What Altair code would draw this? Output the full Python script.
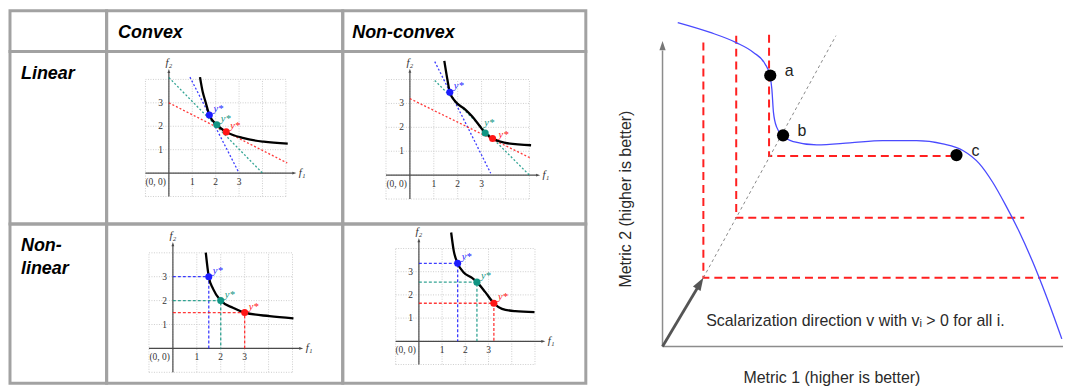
import altair as alt
import pandas as pd

# ---------------- table text ----------------
COL_HEADERS = ["Convex", "Non-convex"]
ROW_HEADERS = ["Linear", "Non-\nlinear"]

# ---------------- small plots (f1, f2 values) ----------------
SERIES = ["blue", "teal", "red"]
SERIES_COLORS = ["#1c1cff", "#109583", "#ff1616"]
TICKS = [1, 2, 3]
GRID_X = [-1, 0, 1, 2, 3, 4, 5]
GRID_Y = [-1, 0, 1, 2, 3, 4]

# convex / linear
CL_CURVE_F1 = [1.33, 1.45, 1.55, 1.73, 2.05, 2.45, 3.2, 4.05, 5.08]
CL_CURVE_F2 = [4.1, 3.45, 3.1, 2.48, 2.06, 1.76, 1.49, 1.34, 1.26]
CL_PT_F1 = [1.73, 2.05, 2.45]
CL_PT_F2 = [2.48, 2.06, 1.76]
CL_LINE_F1 = [[0.9, 3.0], [0.0, 4.0], [0.0, 5.06]]
CL_LINE_F2 = [[4.1, 0.0], [4.08, 0.0], [3.0, 0.43]]

# non-convex / linear
NL_CURVE_F1 = [1.44, 1.56, 1.67, 1.9, 2.32, 2.6, 2.88, 3.15, 3.46, 3.99, 5.07]
NL_CURVE_F2 = [4.78, 4.05, 3.47, 3.08, 2.74, 2.46, 2.11, 1.76, 1.53, 1.35, 1.25]
NL_PT_F1 = [1.67, 3.15, 3.46]
NL_PT_F2 = [3.47, 1.76, 1.53]
NL_LINE_F1 = [[1.04, 3.38], [1.04, 5.04], [0.0, 5.08]]
NL_LINE_F2 = [[4.75, 0.08], [3.96, -0.04], [3.2, 0.7]]

# convex / non-linear
CN_CURVE_F1 = [1.375, 1.5, 1.68, 2.0, 2.51, 3.0, 4.04, 5.04]
CN_CURVE_F2 = [4.01, 3.0, 2.49, 2.0, 1.7, 1.5, 1.35, 1.26]
CN_PT_F1 = [1.5, 2.0, 3.0]
CN_PT_F2 = [3.0, 2.0, 1.5]

# non-convex / non-linear
NN_CURVE_F1 = [1.39, 1.5, 1.67, 1.93, 2.29, 2.5, 2.86, 3.23, 3.58, 4.15, 4.98]
NN_CURVE_F2 = [4.69, 3.91, 3.36, 2.97, 2.73, 2.55, 2.12, 1.64, 1.4, 1.3, 1.26]
NN_PT_F1 = [1.67, 2.5, 3.23]
NN_PT_F2 = [3.36, 2.55, 1.64]

# ---------------- right diagram (metric units) ----------------
FRONT_M1 = [0.38, 1.19, 1.84, 2.27, 2.56, 2.67, 2.73, 2.77, 2.85, 3.0, 3.27, 3.85,
            4.68, 5.5, 6.34, 7.0, 7.5, 7.91, 8.24, 8.57, 8.91, 9.24, 9.57, 9.97]
FRONT_M2 = [9.85, 9.55, 9.24, 8.94, 8.59, 8.28, 7.83, 7.12, 6.67, 6.41, 6.23, 6.13,
            6.19, 6.26, 6.26, 6.16, 5.96, 5.56, 5.0, 4.29, 3.48, 2.58, 1.57, 0.23]
PT_NAMES = ["a", "b", "c"]
PT_M1 = [2.69, 3.01, 7.34]
PT_M2 = [8.24, 6.42, 5.82]
# dashed L-shapes: vertical top, corner, horizontal end
L_X = [1.02, 1.84, 2.66]
L_TOP = [9.24, 9.45, 9.48]
L_CORNER = [2.09, 3.91, 5.79]
L_END = [9.88, 9.03, 7.34]
DIAG_M1 = [1.02, 4.33]
DIAG_M2 = [2.09, 9.45]

NOTE = "Scalarization direction v with v\u1d62 > 0 for all i."
X_TITLE = "Metric 1 (higher is better)"
Y_TITLE = "Metric 2 (higher is better)"

BORDER = "#a2a2a2"
ARROW = "M0,0L0.75,2.2L-0.75,2.2Z"
SERIF = "Liberation Serif"
SANS = "Liberation Sans"

color_enc = alt.Color("s:N", scale=alt.Scale(domain=SERIES, range=SERIES_COLORS), legend=None)

DEFAULT_LABEL_OFFSETS = [(9, -6), (9, -6), (9, -6)]
NL_LABEL_OFFSETS = [(9, -6), (4, -10), (11, -4)]


def small_plot(cf1, cf2, pf1, pf2, guides, w, h, xdom, ydom, dash, label_offsets=DEFAULT_LABEL_OFFSETS):
    xs = alt.Scale(domain=xdom, nice=False, zero=False)
    ys = alt.Scale(domain=ydom, nice=False, zero=False)

    def X(f):
        return alt.X(f"{f}:Q", scale=xs, axis=None)

    def Y(f):
        return alt.Y(f"{f}:Q", scale=ys, axis=None)

    gv = alt.Chart(pd.DataFrame({"gx": GRID_X, "a": min(GRID_Y), "b": max(GRID_Y)})).mark_rule(
        color="#c8c8c8", strokeWidth=0.9, strokeDash=[1, 1.5]).encode(x=X("gx"), y=Y("a"), y2="b")
    gh = alt.Chart(pd.DataFrame({"gy": GRID_Y, "a": min(GRID_X), "b": max(GRID_X)})).mark_rule(
        color="#c8c8c8", strokeWidth=0.9, strokeDash=[1, 1.5]).encode(y=Y("gy"), x=X("a"), x2="b")
    ax = alt.Chart(pd.DataFrame({"xa": [-1, 0], "xb": [5.3, 0], "ya": [0, -1], "yb": [0, 4.3]})).mark_rule(
        color="#4a4a4a", strokeWidth=1.2).encode(x=X("xa"), x2="xb", y=Y("ya"), y2="yb")
    heads = alt.Chart(pd.DataFrame({"hx": [5.45, 0], "hy": [0, 4.45], "ang": [90, 0]})).mark_point(
        shape=ARROW, filled=True, size=14, color="#4a4a4a", opacity=1).encode(
        x=X("hx"), y=Y("hy"), angle=alt.Angle("ang:Q", scale=None))
    xt = alt.Chart(pd.DataFrame({"t": TICKS, "z": 0})).mark_text(
        font=SERIF, fontSize=9.5, dy=9, color="#333").encode(x=X("t"), y=Y("z"), text="t:Q")
    yt = alt.Chart(pd.DataFrame({"t": TICKS, "z": 0})).mark_text(
        font=SERIF, fontSize=9.5, dx=-6, align="right", color="#333").encode(x=X("z"), y=Y("t"), text="t:Q")
    orig = alt.Chart(pd.DataFrame({"t": ["(0, 0)"], "z": [0]})).mark_text(
        font=SERIF, fontSize=9.5, dx=-3, dy=9, align="right", color="#333").encode(
        x=X("z"), y=Y("z"), text="t:N")
    f1lab = alt.Chart(pd.DataFrame({"t": ["f\u2081"], "lx": [5.55], "ly": [0]})).mark_text(
        font=SERIF, fontSize=11, fontStyle="italic", color="#333", align="left").encode(
        x=X("lx"), y=Y("ly"), text="t:N")
    f2lab = alt.Chart(pd.DataFrame({"t": ["f\u2082"], "lx": [0], "ly": [4.5]})).mark_text(
        font=SERIF, fontSize=11, fontStyle="italic", color="#333", baseline="bottom").encode(
        x=X("lx"), y=Y("ly"), text="t:N")
    gl = alt.Chart(guides).mark_line(strokeDash=dash, strokeWidth=1.3, opacity=0.85).encode(
        x=X("gx"), y=Y("gy"), color=color_enc, detail="s:N", order="o:Q")
    cur = alt.Chart(pd.DataFrame({"f1": cf1, "f2": cf2})).mark_line(
        color="black", strokeWidth=2.3, interpolate="monotone").encode(x=X("f1"), y=Y("f2"))
    pdf = pd.DataFrame({"f1": pf1, "f2": pf2, "s": SERIES})
    pts = alt.Chart(pdf).mark_circle(size=50, opacity=1).encode(x=X("f1"), y=Y("f2"), color=color_enc)
    labs = []
    for i, (ddx, ddy) in enumerate(label_offsets):
        labs.append(alt.Chart(pdf.iloc[[i]]).mark_text(
            text="y*", font=SERIF, fontSize=10.5, fontStyle="italic", dx=ddx, dy=ddy).encode(
            x=X("f1"), y=Y("f2"), color=color_enc))
    return alt.layer(gv, gh, ax, heads, xt, yt, orig, f1lab, f2lab, gl, cur, pts, *labs).properties(
        width=w, height=h)


def linear_guides(lf1, lf2):
    rows = []
    for s, xx, yy in zip(SERIES, lf1, lf2):
        for o, (a, b) in enumerate(zip(xx, yy)):
            rows.append({"gx": a, "gy": b, "s": s, "o": o})
    return pd.DataFrame(rows)


def nonlinear_guides(pf1, pf2):
    rows = []
    for s, a, b in zip(SERIES, pf1, pf2):
        rows += [{"gx": 0, "gy": b, "s": s, "o": 0}, {"gx": a, "gy": b, "s": s, "o": 1},
                 {"gx": a, "gy": 0, "s": s, "o": 2}]
    return pd.DataFrame(rows)


def text_cell(txt, w, h, x, y):
    return alt.Chart(pd.DataFrame({"t": [txt]})).mark_text(
        align="left", baseline="alphabetic", font=SANS, fontSize=18, fontWeight="bold",
        fontStyle="italic", lineBreak="\n", lineHeight=23, color="black").encode(
        x=alt.value(x), y=alt.value(y), text="t:N").properties(width=w, height=h)


W = [97, 237, 244]
H = [41, 173, 160]

cells = [
    text_cell("", W[0], H[0], 11, 27),
    text_cell(COL_HEADERS[0], W[1], H[0], 11.5, 27),
    text_cell(COL_HEADERS[1], W[2], H[0], 9.5, 27),
    text_cell(ROW_HEADERS[0], W[0], H[1], 11, 28),
    small_plot(CL_CURVE_F1, CL_CURVE_F2, CL_PT_F1, CL_PT_F2, linear_guides(CL_LINE_F1, CL_LINE_F2),
               W[1], H[1], [-2.66, 7.43], [-2.17, 5.19], [2, 2]),
    small_plot(NL_CURVE_F1, NL_CURVE_F2, NL_PT_F1, NL_PT_F2, linear_guides(NL_LINE_F1, NL_LINE_F2),
               W[2], H[1], [-2.81, 7.36], [-2.04, 5.17], [2, 2], NL_LABEL_OFFSETS),
    text_cell(ROW_HEADERS[1], W[0], H[2], 11, 27),
    small_plot(CN_CURVE_F1, CN_CURVE_F2, CN_PT_F1, CN_PT_F2, nonlinear_guides(CN_PT_F1, CN_PT_F2),
               W[1], H[2], [-2.77, 7.1], [-1.46, 5.21], [3, 2]),
    small_plot(NN_CURVE_F1, NN_CURVE_F2, NN_PT_F1, NN_PT_F2, nonlinear_guides(NN_PT_F1, NN_PT_F2),
               W[2], H[2], [-3.28, 7.19], [-1.81, 5.06], [3, 2]),
]
table = alt.concat(*cells, columns=3, spacing=0, bounds="flush", align="each").resolve_scale(
    x="independent", y="independent")

# ---------------- right diagram ----------------
xr = alt.Scale(domain=[0, 10], nice=False, zero=False)
yr = alt.Scale(domain=[0, 10.21], nice=False, zero=False)


def RX(f):
    return alt.X(f"{f}:Q", scale=xr, axis=None)


def RY(f):
    return alt.Y(f"{f}:Q", scale=yr, axis=None)


lrows = []
for i, (x, t, c, e) in enumerate(zip(L_X, L_TOP, L_CORNER, L_END)):
    lrows += [{"m1": x, "m2": t, "k": i, "o": 0}, {"m1": x, "m2": c, "k": i, "o": 1},
              {"m1": e, "m2": c, "k": i, "o": 2}]
red_l = alt.Chart(pd.DataFrame(lrows)).mark_line(color="#ff2020", strokeWidth=2, strokeDash=[8, 5]).encode(
    x=RX("m1"), y=RY("m2"), detail="k:N", order="o:Q")
diag = alt.Chart(pd.DataFrame({"m1": DIAG_M1, "m2": DIAG_M2})).mark_line(
    color="#8a8a8a", strokeWidth=1, strokeDash=[3, 3]).encode(x=RX("m1"), y=RY("m2"))
raxes = alt.Chart(pd.DataFrame({"xa": [0, 0], "xb": [10, 0], "ya": [0, 0], "yb": [0, 9.0]})).mark_rule(
    color="#8c8c8c", strokeWidth=1.5).encode(x=RX("xa"), x2="xb", y=RY("ya"), y2="yb")
yhead = alt.Chart(pd.DataFrame({"m1": [0], "m2": [9.29], "ang": [0]})).mark_point(
    shape=ARROW, filled=True, size=70, color="#777", opacity=1).encode(
    x=RX("m1"), y=RY("m2"), angle=alt.Angle("ang:Q", scale=None))
arrow_line = alt.Chart(pd.DataFrame({"m1": [0, 0.9], "m2": [0, 1.84]})).mark_line(
    color="#555", strokeWidth=2.8).encode(x=RX("m1"), y=RY("m2"))
arrow_head = alt.Chart(pd.DataFrame({"m1": [1.02], "m2": [2.09], "ang": [30.7]})).mark_point(
    shape=ARROW, filled=True, size=140, color="#555", opacity=1).encode(
    x=RX("m1"), y=RY("m2"), angle=alt.Angle("ang:Q", scale=None))
front = alt.Chart(pd.DataFrame({"m1": FRONT_M1, "m2": FRONT_M2})).mark_line(
    color="#4a4aff", strokeWidth=1.3, interpolate="monotone").encode(x=RX("m1"), y=RY("m2"))
pdf = pd.DataFrame({"m1": PT_M1, "m2": PT_M2, "n": PT_NAMES})
rpts = alt.Chart(pdf).mark_circle(size=150, color="black", opacity=1).encode(x=RX("m1"), y=RY("m2"))
rlab = alt.Chart(pdf).mark_text(font=SANS, fontSize=16, color="#222", dx=19, dy=-4).encode(
    x=RX("m1"), y=RY("m2"), text="n:N")
note = alt.Chart(pd.DataFrame({"t": [NOTE], "m1": [1.09], "m2": [0.76]})).mark_text(
    font=SANS, fontSize=16, color="#2a2a2a", align="left", baseline="middle").encode(
    x=RX("m1"), y=RY("m2"), text="t:N")
xtitle = alt.Chart(pd.DataFrame({"t": [X_TITLE], "m1": [4.23], "m2": [-0.97]})).mark_text(
    font=SANS, fontSize=16, color="#2a2a2a", align="center", baseline="middle").encode(
    x=RX("m1"), y=RY("m2"), text="t:N")
ytitle = alt.Chart(pd.DataFrame({"t": [Y_TITLE], "m1": [-0.92], "m2": [4.48]})).mark_text(
    font=SANS, fontSize=16, color="#2a2a2a", align="center", baseline="middle", angle=270).encode(
    x=RX("m1"), y=RY("m2"), text="t:N")

right = alt.layer(red_l, diag, raxes, yhead, arrow_line, arrow_head, front, rpts, rlab,
                  note, xtitle, ytitle).properties(
    width=402, height=337, view=alt.ViewBackground(stroke="transparent"))

chart = alt.hconcat(table, right, spacing=28).configure_view(
    stroke=BORDER, strokeWidth=3).properties(padding=0)

chart.save("out.html", embed_options={"renderer": "svg", "actions": False})
